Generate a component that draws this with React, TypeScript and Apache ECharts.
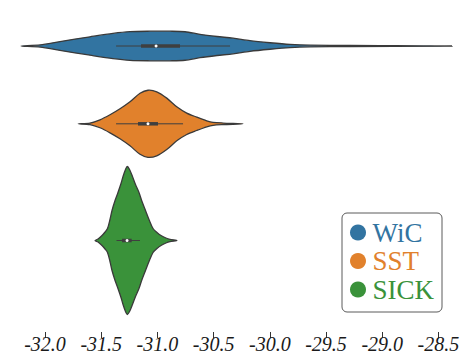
import { useEffect, useRef } from "react";
import * as echarts from "echarts";

const categories = ["WiC", "SST", "SICK"];
const colors = ["#3274a1", "#e1812c", "#3a923a"];
const rowPositions = [0, 1, 2.5];

// density outlines: x value and half-width (in row units)
const wicValues = [-32.214, -32.044, -31.867, -31.6, -31.395, -31.244, -31.066, -30.888, -30.754, -30.621, -30.47, -30.327, -30.176, -29.998, -29.82, -29.642, -29.286, -28.379];
const wicHalfWidths = [0, 0.014, 0.057, 0.118, 0.162, 0.184, 0.19, 0.19, 0.183, 0.15, 0.122, 0.1, 0.068, 0.042, 0.021, 0.011, 0.007, 0];

const sstValues = [-31.704, -31.6, -31.511, -31.422, -31.333, -31.244, -31.155, -31.084, -31.006, -30.917, -30.828, -30.739, -30.65, -30.561, -30.505, -30.416, -30.238];
const sstHalfWidths = [0, 0.01, 0.051, 0.116, 0.193, 0.283, 0.392, 0.431, 0.411, 0.33, 0.219, 0.138, 0.086, 0.039, 0.019, 0.01, 0];

const sickValues = [-31.555, -31.528, -31.493, -31.466, -31.444, -31.422, -31.404, -31.377, -31.351, -31.324, -31.306, -31.284, -31.268, -31.248, -31.222, -31.195, -31.164, -31.137, -31.106, -31.075, -31.039, -31.004, -30.968, -30.924, -30.888, -30.826];
const sickHalfWidths = [0, 0.019, 0.064, 0.109, 0.154, 0.27, 0.386, 0.514, 0.617, 0.733, 0.823, 0.913, 0.951, 0.913, 0.823, 0.72, 0.617, 0.501, 0.386, 0.27, 0.154, 0.103, 0.064, 0.032, 0.015, 0];

const whiskerLow = [-31.368, -31.368, -31.364];
const whiskerHigh = [-30.354, -30.772, -31.155];
const q1 = [-31.146, -31.173, -31.315];
const q3 = [-30.799, -30.995, -31.229];
const medians = [-31.012, -31.084, -31.27];

const tickValues = [-32, -31.5, -31, -30.5, -30, -29.5, -29, -28.5];

const profiles = [
  { values: wicValues, widths: wicHalfWidths },
  { values: sstValues, widths: sstHalfWidths },
  { values: sickValues, widths: sickHalfWidths },
];

export default function App() {
  const ref = useRef<HTMLDivElement>(null);
  useEffect(() => {
    if (!ref.current) return;
    const chart = echarts.init(ref.current, null, { renderer: "svg" });
    const renderItem = (params: any, api: any) => {
      const i = params.seriesIndex;
      const pos = rowPositions[i];
      const { values, widths } = profiles[i];
      const upper = values.map((v, k) => api.coord([v, pos - widths[k]]));
      const lower: number[][] = [];
      for (let k = values.length - 2; k >= 1; k--) {
        lower.push(api.coord([values[k], pos + widths[k]]));
      }
      const points = upper.concat(lower);
      const lo = api.coord([whiskerLow[i], pos]);
      const hi = api.coord([whiskerHigh[i], pos]);
      const a = api.coord([q1[i], pos]);
      const b = api.coord([q3[i], pos]);
      const c = api.coord([medians[i], pos]);
      return {
        type: "group",
        children: [
          {
            type: "polygon",
            shape: { points, smooth: 0.3 },
            style: { fill: colors[i], stroke: "#3a3a3a", lineWidth: 1.3 },
          },
          {
            type: "line",
            shape: { x1: lo[0], y1: lo[1], x2: hi[0], y2: hi[1] },
            style: { stroke: "#3f3f3f", lineWidth: 1 },
          },
          {
            type: "rect",
            shape: { x: a[0], y: a[1] - 1.75, width: b[0] - a[0], height: 3.5 },
            style: { fill: "#3f3f3f" },
          },
          {
            type: "circle",
            shape: { cx: c[0], cy: c[1], r: 1.5 },
            style: { fill: "#ffffff" },
          },
        ],
      };
    };
    chart.setOption({
      animation: false,
      backgroundColor: "#ffffff",
      grid: {
        left: 20.3,
        right: 7.5,
        top: 7.1,
        bottom: 22,
        containLabel: false,
        outerBoundsMode: "none",
      },
      xAxis: {
        type: "value",
        position: "bottom",
        min: -32.22,
        max: -28.25,
        axisLine: { show: false, onZero: false },
        splitLine: { show: false },
        axisTick: {
          show: true,
          inside: false,
          customValues: tickValues,
          length: 6,
          lineStyle: { color: "#333333", width: 1, opacity: 1 },
        },
        axisLabel: {
          customValues: tickValues,
          formatter: (v: number) => v.toFixed(1),
          fontFamily: "Liberation Serif",
          fontStyle: "italic",
          fontSize: 20,
          color: "#1a1a1a",
          margin: 2,
        },
      },
      yAxis: { type: "value", inverse: true, min: -0.5, max: 3.676, show: false },
      legend: {
        orient: "vertical",
        left: 342,
        top: 213,
        padding: [6, 8, 9, 8],
        itemGap: 1.5,
        itemWidth: 19,
        itemHeight: 16,
        icon: "circle",
        borderColor: "#5a5a5a",
        borderWidth: 1,
        borderRadius: 5,
        textStyle: { fontFamily: "Liberation Serif", fontSize: 27, lineHeight: 27 },
        data: categories.map((name, i) => ({ name, textStyle: { color: colors[i] } })),
      },
      series: categories.map((name, i) => ({
        name,
        type: "custom",
        renderItem,
        itemStyle: { color: colors[i] },
        encode: { x: 0, y: 1 },
        data: [[medians[i], rowPositions[i]]],
      })),
    });
    return () => chart.dispose();
  }, []);
  return (
    <div
      ref={ref}
      style={{ position: "fixed", left: 0, top: 0, width: 474, height: 354, background: "#fff" }}
    />
  );
}
